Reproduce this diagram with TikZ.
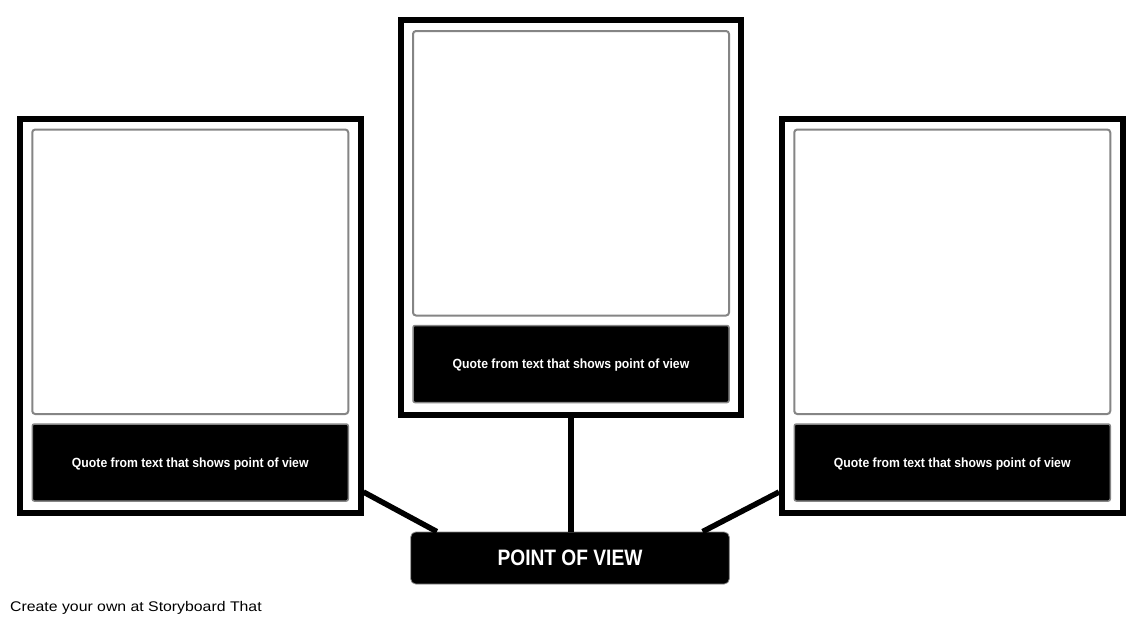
\documentclass[tikz,border=0pt]{standalone}
\usepackage{fontspec}
\setmainfont{Liberation Sans}
\newfontfamily\capfont[FakeStretch=0.92]{Liberation Sans}
\newfontfamily\povfont[FakeStretch=0.86]{Liberation Sans}
\newfontfamily\creditfont[FakeStretch=1.13]{Liberation Sans}
\definecolor{panelgray}{HTML}{858585}
\begin{document}
\begin{tikzpicture}[x=1pt,y=-1pt,
  frame/.style={draw=black,line width=6pt,fill=white,minimum width=340.5pt,minimum height=394.5pt,inner sep=0pt},
  picbox/.style={draw=panelgray,line width=2pt,rounded corners=3pt,minimum width=316pt,minimum height=284.5pt,inner sep=0pt},
  capbox/.style={draw=panelgray,line width=1.5pt,fill=black,rounded corners=2pt,minimum width=316pt,minimum height=77pt,inner sep=0pt,text depth=0pt,text=white,font=\capfont\bfseries\fontsize{13.3}{15}\selectfont},
  povbox/.style={draw=panelgray,line width=0.8pt,fill=black,rounded corners=5pt,minimum width=318.5pt,minimum height=52pt,inner sep=0pt,text=white,font=\povfont\bfseries\fontsize{22.3}{25}\selectfont},
  link/.style={draw=black,line width=5.5pt}]
\useasboundingbox[fill=white] (0,0) rectangle (1143,625);

% frames
\node[frame] (lf) at (190.25,315.75) {};
\node[frame] (mf) at (571,217.25) {};
\node[frame] (rf) at (952.25,315.75) {};

% picture areas
\node[picbox] (lp) at (190.25,271.75) {};
\node[picbox] (mp) at (571,173.25) {};
\node[picbox] (rp) at (952.25,271.75) {};

% captions
\node[capbox] (lc) at (190.25,462.5) {Quote from text that shows point of view};
\node[capbox] (mc) at (571,364) {Quote from text that shows point of view};
\node[capbox] (rc) at (952.25,462.5) {Quote from text that shows point of view};

% central box
\node[povbox] (pov) at (570,558) {POINT OF VIEW};

% connectors
\draw[link] (mf.south) -- (mf.south |- pov.north);
\draw[link] ([yshift=24pt]lf.south east) -- ([xshift=26.5pt]pov.north west);
\draw[link] ([yshift=24pt]rf.south west) -- ([xshift=-27pt]pov.north east);

% footer
\node[anchor=base west,inner sep=0pt,font=\creditfont\fontsize{14}{16}\selectfont] (credit) at (10,611) {Create your own at Storyboard That};
\end{tikzpicture}
\end{document}
